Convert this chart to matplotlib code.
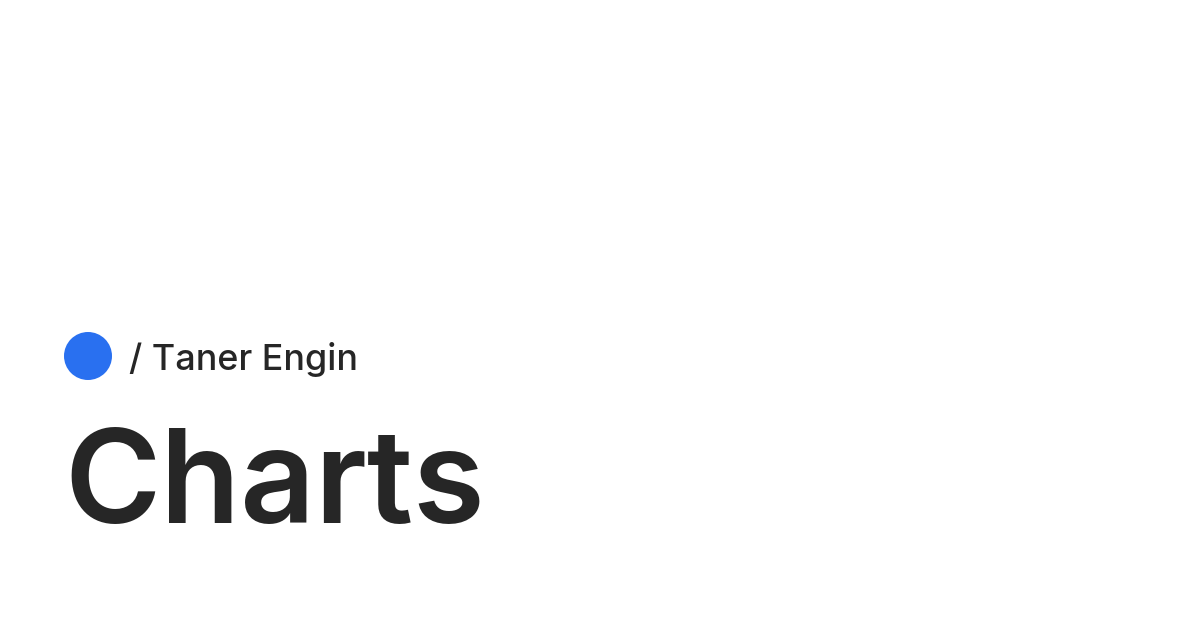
import matplotlib.pyplot as plt
from matplotlib.patches import Circle

# card content
author_line = "/ Taner Engin"
title = "Charts"
dot_color = "#2970F0"
text_color = "#262626"

fig = plt.figure(figsize=(12, 6.3), dpi=100)
ax = fig.add_axes([0, 0, 1, 1])
ax.set_xlim(0, 1200)
ax.set_ylim(630, 0)
ax.axis("off")

# blue dot
ax.add_patch(Circle((88, 356), 24, color=dot_color, lw=0))

# author line
ax.text(129, 370, author_line, fontsize=25.8, family="Inter",
        fontweight="medium", color=text_color, va="baseline", ha="left")

# big title
ax.text(64, 523, title, fontsize=94, family="Inter",
        fontweight="semibold", color=text_color, va="baseline", ha="left")

plt.savefig("out.png", dpi=100, facecolor="white")
plt.close()
